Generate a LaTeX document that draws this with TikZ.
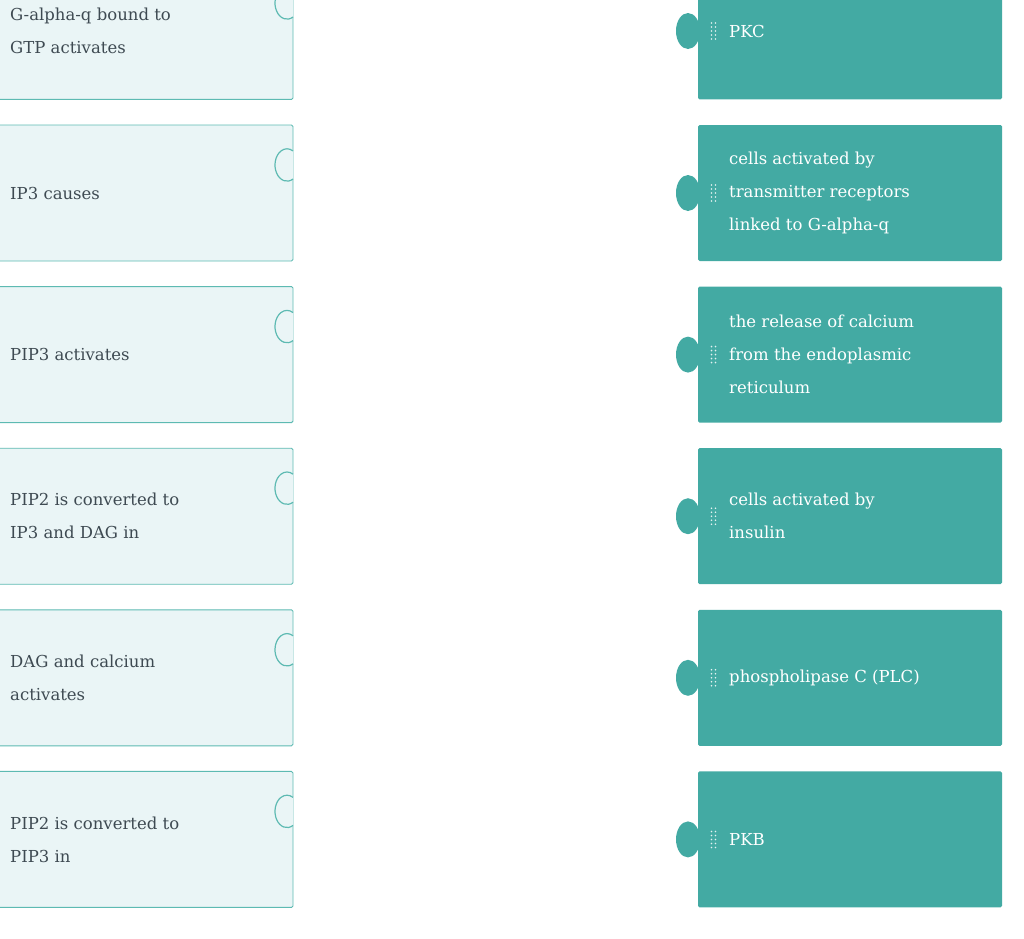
\documentclass[tikz,border=0pt]{standalone}
\usepackage{fontspec}
\setmainfont{DejaVu Serif}
\definecolor{lfill}{HTML}{EAF5F6}
\definecolor{lline}{HTML}{5DBAB2}
\definecolor{rfill}{HTML}{43AAA3}
\definecolor{ltext}{HTML}{3E4A52}
\begin{document}
\begin{tikzpicture}[x=1pt,y=-1pt,
  lbox/.style={draw=lline,fill=lfill,rounded corners=1.5pt,line width=0.9pt},
  rbox/.style={fill=rfill,rounded corners=1.5pt},
  ltxt/.style={anchor=west,align=left,text=ltext,font=\fontsize{16.5}{33}\selectfont,inner sep=0},
  rtxt/.style={anchor=west,align=left,text=white,font=\fontsize{16.5}{33}\selectfont,inner sep=0}]
\useasboundingbox (0,0) rectangle (1024,938);
\foreach \i/\lt/\rt in {0/{G-alpha-q bound to\\GTP activates}/{PKC},
  1/{IP3 causes}/{cells activated by\\transmitter receptors\\linked to G-alpha-q},
  2/{PIP3 activates}/{the release of calcium\\from the endoplasmic\\reticulum},
  3/{PIP2 is converted to\\IP3 and DAG in}/{cells activated by\\insulin},
  4/{DAG and calcium\\activates}/{phospholipase C (PLC)},
  5/{PIP2 is converted to\\PIP3 in}/{PKB}}{
  \pgfmathsetmacro\top{125+161.6*(\i-1)}
  \pgfmathsetmacro\cy{\top+68}
  \pgfmathsetmacro\ty{ifthenelse(\i==0,31,\cy)}
  \path[lbox] (-5,\top) rectangle (293,\top+136);
  \path[rbox] (698,\top) rectangle (1002,\top+136);
  % socket
  \fill[white] (293.6,\ty-16) rectangle (296,\ty+16);
  \draw[lline,line width=1.2pt,fill=lfill] (293,\ty-14) arc[start angle=60,end angle=300,x radius=12,y radius=16.2];
  % knob
  \fill[rfill] (688,\ty) ellipse[x radius=12,y radius=18];
  \foreach \dx in {0,4}\foreach \dy in {-8,-4,0,4,8}
    \fill[white!85!rfill] (711.5+\dx,\ty+\dy) circle (0.9);
  \node[ltxt] (l\i) at (10,\ty) {\lt};
  \node[rtxt] (r\i) at (729,\ty) {\rt};
}
\end{tikzpicture}
\end{document}
